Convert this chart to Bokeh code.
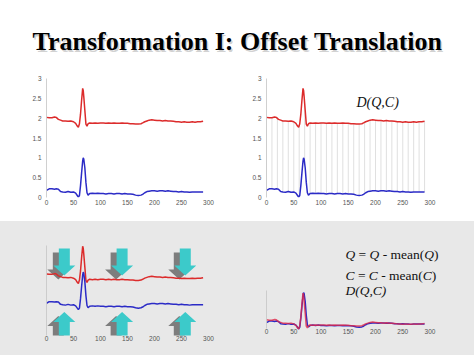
import numpy as np
from bokeh.plotting import figure
from bokeh.layouts import column, row
from bokeh.models import Range1d, FixedTicker, Label
from bokeh.embed import file_html
from bokeh.resources import INLINE

# ---------------- data ----------------
TITLE = "Transformation I: Offset Translation"
time_idx = [0, 5, 10, 15, 18, 22, 26, 30, 35, 40,
            45, 50, 54, 57, 59, 61, 63, 65, 67, 68,
            69, 71, 73, 75, 77, 80, 85, 90, 95, 100,
            105, 110, 115, 120, 125, 130, 135, 140, 145, 150,
            155, 160, 165, 170, 175, 178, 182, 186, 190, 195,
            200, 205, 210, 215, 220, 225, 230, 235, 240, 245,
            250, 255, 260, 265, 270, 275, 280, 285, 290]
q_vals = [2.02, 2.01, 2.01, 2.03, 2.02, 1.97, 1.95, 1.93, 1.93, 1.92,
          1.93, 1.91, 1.87, 1.80, 1.77, 1.86, 2.10, 2.45, 2.75, 2.70,
          2.55, 2.20, 1.85, 1.80, 1.86, 1.88, 1.87, 1.88, 1.87, 1.88,
          1.88, 1.87, 1.88, 1.87, 1.88, 1.87, 1.87, 1.88, 1.87, 1.87,
          1.86, 1.86, 1.85, 1.85, 1.86, 1.88, 1.91, 1.93, 1.95, 1.96,
          1.95, 1.94, 1.94, 1.93, 1.94, 1.93, 1.93, 1.92, 1.91, 1.91,
          1.90, 1.91, 1.90, 1.90, 1.91, 1.90, 1.91, 1.91, 1.92]
c_vals = [0.18, 0.22, 0.22, 0.21, 0.22, 0.21, 0.15, 0.14, 0.13, 0.15,
          0.13, 0.14, 0.11, 0.05, 0.01, 0.05, 0.30, 0.62, 0.92, 1.00,
          0.97, 0.75, 0.38, 0.12, 0.06, 0.10, 0.11, 0.10, 0.11, 0.10,
          0.10, 0.09, 0.10, 0.10, 0.09, 0.10, 0.10, 0.09, 0.10, 0.09,
          0.09, 0.08, 0.06, 0.05, 0.06, 0.08, 0.12, 0.15, 0.16, 0.17,
          0.17, 0.16, 0.17, 0.17, 0.16, 0.17, 0.16, 0.15, 0.15, 0.14,
          0.15, 0.14, 0.14, 0.13, 0.14, 0.14, 0.14, 0.14, 0.14]
x_ticks = [0, 50, 100, 150, 200, 250, 300]
x_tick_labels = ["0", "50", "100", "150", "200", "250", "300"]
y_ticks = [0, 0.5, 1, 1.5, 2, 2.5, 3]
y_tick_labels = ["0", "0.5", "1", "1.5", "2", "2.5", "3"]
hatch_x = list(range(0, 300, 10))
arrow_x = [33, 140, 257]
down_tip_y = 0.91
up_tip_y = -0.05

RED = "#dc2b2b"
BLUE = "#2b2bc6"
GRAY_BG = "#e8e8e8"
CYAN = "#3ccaca"
SHADOW = "#7d7d7d"
AX = "#c4c4c4"
SERIF = "Liberation Serif"

x = np.array(time_idx, dtype=float)
q = np.array(q_vals)
c = np.array(c_vals)


def make_fig(w, h, xr, yr, l, r, t, b, bg="white", xstand=2):
    p = figure(width=w, height=h, x_range=xr, y_range=yr, output_backend="svg",
               toolbar_location=None, min_border_left=l, min_border_right=r,
               min_border_top=t, min_border_bottom=b)
    p.background_fill_color = bg
    p.border_fill_color = bg
    p.outline_line_color = None
    p.grid.visible = False
    for ax in p.xaxis:
        ax.ticker = FixedTicker(ticks=x_ticks)
        ax.major_label_overrides = dict(zip(x_ticks, x_tick_labels))
        ax.axis_line_color = None
        ax.major_tick_line_color = None
        ax.minor_tick_line_color = None
        ax.major_tick_out = 0
        ax.major_tick_in = 0
        ax.minor_tick_out = 0
        ax.major_label_text_font = "Liberation Sans"
        ax.major_label_text_font_size = "6.5px"
        ax.major_label_text_color = "#555555"
        ax.major_label_standoff = xstand
    for ax in p.yaxis:
        ax.ticker = FixedTicker(ticks=y_ticks)
        ax.major_label_overrides = dict(zip(y_ticks, y_tick_labels))
        ax.axis_line_color = AX
        ax.axis_line_width = 0.8
        ax.major_tick_line_color = None
        ax.minor_tick_line_color = None
        ax.major_tick_out = 0
        ax.major_tick_in = 0
        ax.minor_tick_out = 0
        ax.major_label_text_font = "Liberation Sans"
        ax.major_label_text_font_size = "6.5px"
        ax.major_label_text_color = "#555555"
        ax.major_label_standoff = 5
    return p


# ---------------- title ----------------
pt = figure(width=474, height=65, x_range=Range1d(0, 474), y_range=Range1d(65, 0),
            output_backend="svg", toolbar_location=None, x_axis_type=None, y_axis_type=None,
            min_border=0)
pt.outline_line_color = None
pt.grid.visible = False
pt.add_layout(Label(x=238.5, y=42.5, text=TITLE, text_font=SERIF,
                    text_font_style="bold", text_font_size="26px", text_color="#9a9a9a",
                    text_alpha=0.45, text_align="center", text_baseline="alphabetic"))
pt.add_layout(Label(x=237, y=41, text=TITLE, text_font=SERIF,
                    text_font_style="bold", text_font_size="26px", text_color="#000000",
                    text_align="center", text_baseline="alphabetic"))

# ---------------- top-left ----------------
tl = make_fig(237, 156, Range1d(0, 300), Range1d(0, 3), 46, 29, 13, 24)
tl.line(x, q, line_color=RED, line_width=1.5)
tl.line(x, c, line_color=BLUE, line_width=1.5)

# ---------------- top-right ----------------
R_XEND = 300.0 * 208.0 / 163.5
tr = make_fig(237, 156, Range1d(0, R_XEND), Range1d(0, 3), 29, 0, 13, 24)
hx = np.array(hatch_x, dtype=float)
tr.segment(x0=hx, y0=np.interp(hx, x, q), x1=hx, y1=np.interp(hx, x, c),
           line_color="#d8d8d8", line_width=0.8)
tr.line(x, q, line_color=RED, line_width=1.5)
tr.line(x, c, line_color=BLUE, line_width=1.5)
tr.add_layout(Label(x=165, y=2.40, text="D(Q,C)", text_font=SERIF,
                    text_font_style="italic", text_font_size="14px", text_color="#111111",
                    text_baseline="alphabetic"))

# ---------------- bottom-left ----------------
frame_h = 114.0
kx = 300.0 / (237 - 46 - 29)
ky = 2.37 / 90.0
bl_lo = -0.67
bl_axis_hi = 1.70
bl_hi = bl_lo + frame_h * ky
bl = make_fig(237, 134, Range1d(0, 300), Range1d(bl_lo, bl_hi), 46, 29, 0, 20, GRAY_BG, xstand=0)
bl.extra_y_ranges = {"red": Range1d(0.40, 0.40 + frame_h * ky)}
bl.yaxis.bounds = (bl_lo, bl_axis_hi)
bl.yaxis.major_label_text_color = None
down_shape = [(0, 0), (11, -10), (5.5, -10), (5.5, -27), (-5.5, -27), (-5.5, -10), (-11, -10)]
up_shape = [(sx, -sy) for sx, sy in down_shape]


def arrow_patches(shape, tips_x, tip_y, dx=0.0, dy=0.0):
    xs, ys = [], []
    for ax_ in tips_x:
        xs.append([ax_ + (sx + dx) * kx for sx, sy in shape])
        ys.append([tip_y - (sy + dy) * ky for sx, sy in shape])
    return xs, ys


for shape, tip in ((down_shape, down_tip_y), (up_shape, up_tip_y)):
    sxs, sys_ = arrow_patches(shape, arrow_x, tip, dx=-6, dy=4)
    bl.patches(sxs, sys_, fill_color=SHADOW, line_color=None)
    cxs, cys = arrow_patches(shape, arrow_x, tip)
    bl.patches(cxs, cys, fill_color=CYAN, line_color=None)

bl.line(x, q, line_color=RED, line_width=1.5, y_range_name="red")
bl.line(x, c, line_color=BLUE, line_width=1.5)

# ---------------- bottom-right ----------------
qz = q - q.mean()
cz = c - c.mean()
per_px = 1.03 / 37.7
br_axis_lo, br_axis_hi = -0.16, 0.87
br_lo = br_axis_lo - 7.3 * per_px
br_hi = br_lo + frame_h * per_px
br = make_fig(237, 134, Range1d(0, R_XEND), Range1d(br_lo, br_hi), 29, 0, 0, 20, GRAY_BG, xstand=-7)
br.yaxis.bounds = (br_axis_lo, br_axis_hi)
br.yaxis.major_label_text_color = None
br.line(x, cz, line_color=BLUE, line_width=1.5)
br.line(x, qz, line_color="#e02848", line_width=1.5, line_alpha=0.8)

Wd = {" ": 0.25, "=": 0.564, "-": 0.333, "m": 0.778, "e": 0.444, "a": 0.444,
      "n": 0.5, "(": 0.333, ")": 0.333, "Q": 0.722, "C": 0.667, ",": 0.25, "D": 0.722}
FS = 13.5
TX = (345 - 266) * 300.0 / 163.5


def eq_line(sym, base_local_px):
    pieces = [(sym, "italic", 0.0), ("=", "normal", 0.25), (sym, "italic", 0.25),
              ("- mean(", "normal", 0.25), (sym, "italic", 0.0), (")", "normal", 0.0)]
    off = 0.0
    yv = br_hi - base_local_px * per_px
    for s, st, gap in pieces:
        off += gap * FS
        br.add_layout(Label(x=TX, y=yv, x_offset=off, text=s, text_font=SERIF,
                            text_font_style=st, text_font_size=f"{FS}px", text_color="#111111",
                            text_baseline="alphabetic"))
        off += sum(Wd[ch] for ch in s) * FS


eq_line("Q", 32.5)
eq_line("C", 54.0)
br.add_layout(Label(x=TX, y=br_hi - 69.0 * per_px, text="D(Q,C)", text_font=SERIF,
                    text_font_style="italic", text_font_size=f"{FS}px", text_color="#111111",
                    text_baseline="alphabetic"))

bottom = row(bl, br, spacing=0, styles={"background-color": GRAY_BG})
layout = column(pt, row(tl, tr, spacing=0), bottom, spacing=0)
open("out.html", "w").write(file_html(layout, INLINE))
